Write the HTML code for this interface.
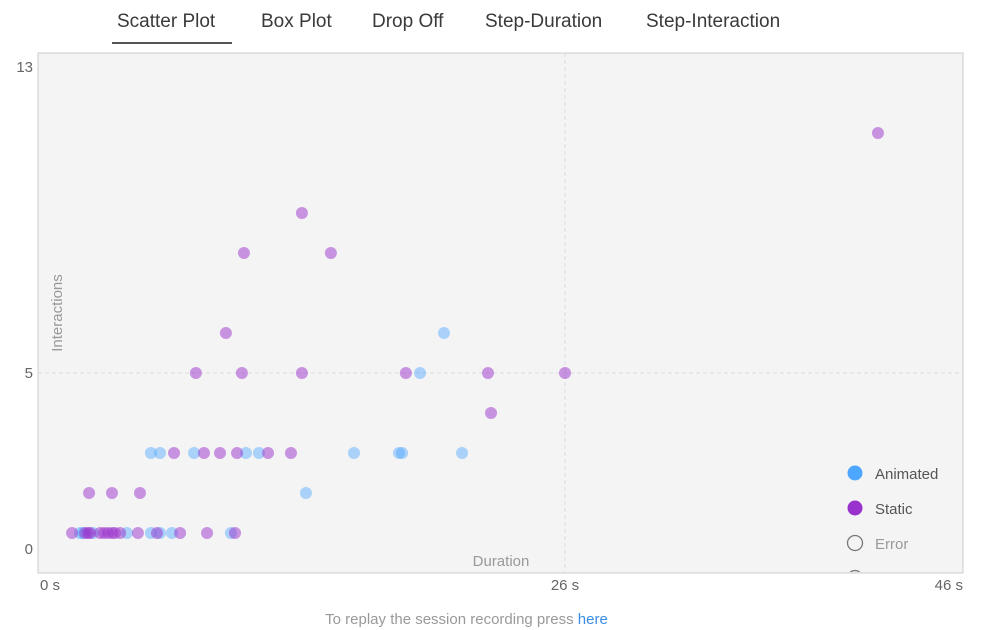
<!DOCTYPE html>
<html><head><meta charset="utf-8"><style>
body{margin:0;width:1000px;height:630px;background:#fff;font-family:"Liberation Sans",sans-serif;overflow:hidden;position:relative}
.tab{position:absolute;top:11px;font-size:19px;color:#3a3a3a}
</style></head><body>
<div class="tab" style="left:117px">Scatter Plot</div>
<div style="position:absolute;left:112px;top:42px;width:120px;height:2px;background:#555"></div>
<div class="tab" style="left:261px">Box Plot</div>
<div class="tab" style="left:372px">Drop Off</div>
<div class="tab" style="left:485px">Step-Duration</div>
<div class="tab" style="left:646px">Step-Interaction</div>
<svg id="chart" width="1000" height="610" style="position:absolute;left:0;top:0" font-family="Liberation Sans, sans-serif"></svg>
<div style="position:absolute;top:611px;left:0;width:933px;text-align:center;font-size:15px;color:#999">To replay the session recording press <span style="color:#3a8ee6">here</span></div>
<script>
const animatedX=[2.07,2.22,2.71,4.39,5.57,6.02,6.61,9.52,13.22,5.57,6.02,7.70,10.26,10.90,15.59,17.81,17.96,20.92,18.85,20.03];
const animatedY=[1,1,1,1,1,1,1,1,2,3,3,3,3,3,3,3,3,3,5,6];
const staticX=[1.68,2.32,2.47,2.57,3.06,3.26,3.45,3.65,3.80,4.05,4.93,5.87,7.01,8.34,9.72,2.52,3.65,5.03,6.71,8.19,8.98,9.82,11.35,12.48,22.35,7.79,10.06,13.02,18.15,22.20,26.0,9.27,10.16,14.45,13.02,41.44];
const staticY=[1,1,1,1,1,1,1,1,1,1,1,1,1,1,1,2,2,2,3,3,3,3,3,3,4,5,5,5,5,5,5,6,8,8,9,11];
const yTicks=[0,5,13];
const xTicks=[0,26,46];
const L=38,R=963,T=53,B=573;
const sx=v=>L+v*(565-L)/26;
const sy=v=>B-v*(B-T)/13;
const NS="http://www.w3.org/2000/svg";
const svg=document.getElementById('chart');
function mk(tag,attrs,txt){const e=document.createElementNS(NS,tag);for(const k in attrs)e.setAttribute(k,attrs[k]);if(txt!==undefined)e.textContent=txt;svg.appendChild(e);return e;}
let e=mk('rect',{x:L,y:T,width:R-L,height:B-T,fill:'#f4f4f4',stroke:'#ccc'});


e=mk('line',{x1:L,x2:R,y1:sy(5),y2:sy(5),stroke:'#ddd','stroke-dasharray':'4,3'});


e=mk('line',{x1:sx(26),x2:sx(26),y1:T,y2:B,stroke:'#ddd','stroke-dasharray':'4,3'});


yTicks.forEach(v=>{let y=v===0?sy(v)-19:(v===13?sy(v)+19:sy(v)+5);
 const t=mk('text',{x:33,y:y,'text-anchor':'end','font-size':15,fill:'#666'},String(v));
 
 });
xTicks.forEach((v,i)=>{const last=i===xTicks.length-1;const anc=i===0?'start':(last?'end':'middle');
 const t=mk('text',{x:i===0?sx(v)+2:(last?Math.min(sx(v),R):sx(v)),y:590,'text-anchor':anc,'font-size':15,fill:'#666'},v+' s');
 
 });
e=mk('text',{x:501,y:566,'text-anchor':'middle','font-size':15,fill:'#999'},'Duration');


e=mk('text',{x:62,y:313,'text-anchor':'middle','font-size':15,fill:'#999',transform:'rotate(-90 62 313)'},'Interactions');


animatedX.forEach((v,i)=>{const c=mk('circle',{cx:sx(v),cy:sy(animatedY[i]),r:6,fill:'#4da6ff','fill-opacity':0.45});
 
 });
staticX.forEach((v,i)=>{const c=mk('circle',{cx:sx(v),cy:sy(staticY[i]),r:6,fill:'#9932cc','fill-opacity':0.5});
 
 });
const clip=mk('clipPath',{id:'lc'});
const cr=document.createElementNS(NS,'rect');cr.setAttribute('x',820);cr.setAttribute('y',450);cr.setAttribute('width',143);cr.setAttribute('height',122);clip.appendChild(cr);
const lg=mk('g',{'clip-path':'url(#lc)'});


[['Animated','#4da6ff','#555'],['Static','#9932cc','#555'],['Error','none','#999'],['FullText','none','#999']].forEach((d,i)=>{
 const y=473+i*35;
 const c=document.createElementNS(NS,'circle');c.setAttribute('cx',855);c.setAttribute('cy',y);c.setAttribute('r',7.5);c.setAttribute('fill',d[1]);if(d[1]==='none'){c.setAttribute('stroke','#777');c.setAttribute('stroke-width',1.3);}
 
 
 lg.appendChild(c);
 const t=document.createElementNS(NS,'text');t.setAttribute('x',875);t.setAttribute('y',y+6);t.setAttribute('font-size',15);t.setAttribute('fill',d[2]);t.textContent=d[0];
 
 
 lg.appendChild(t);});
</script>
</body></html>
